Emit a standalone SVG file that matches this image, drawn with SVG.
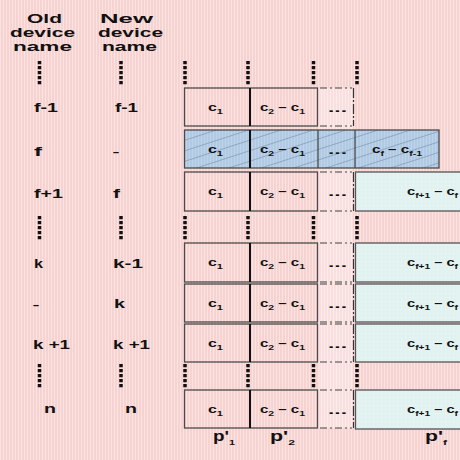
<svg xmlns="http://www.w3.org/2000/svg" width="460" height="460" viewBox="0 0 460 460">
<defs>
<pattern id="bg" width="3" height="10" patternUnits="userSpaceOnUse"><rect width="3" height="10" fill="#f6d2d0"/><rect width="1" height="10" fill="#fbe3e1"/></pattern>
<pattern id="blue" width="3" height="10" patternUnits="userSpaceOnUse"><rect width="3" height="10" fill="#b1cae3"/><rect width="1" height="10" fill="#bfd4ea"/></pattern>
<pattern id="hatch" width="30" height="10" patternUnits="userSpaceOnUse" patternTransform="rotate(-18)"><line x1="0" y1="0.5" x2="30" y2="0.5" stroke="#8296b2" stroke-width="0.7"/></pattern>
<pattern id="cyan" width="4" height="4" patternUnits="userSpaceOnUse"><rect width="4" height="4" fill="#e1f2f0"/><rect x="1" y="1" width="1" height="1" fill="#eef8f7"/></pattern>
<style>
.t{font-family:"Liberation Sans",Arial,sans-serif;font-weight:bold;fill:#111}
.h{font-size:12px}
.l{font-size:13px}
.c{font-size:11.5px}
.s{font-size:8px}
.p{font-size:14px}
.box{fill:none;stroke:#4a4a4a;stroke-width:1.3}
.cy{fill:url(#cyan);stroke:#555;stroke-width:1.3}
.div{stroke:#111;stroke-width:2}
.dd{stroke:#444;stroke-width:1.2;stroke-dasharray:7 3 2 3;fill:none}
.dr{stroke:#333;stroke-width:1.2;stroke-dasharray:10 2 2 2;fill:none}
.vd{stroke:#111;stroke-width:3.5;stroke-dasharray:3.3 1.7;fill:none}
</style>
</defs>
<rect width="460" height="460" fill="url(#bg)"/>
<rect x="319" y="88" width="34" height="340" fill="#fff" opacity="0.3"/>

<g id="headers">
<text class="t h" x="27" y="23" textLength="35" lengthAdjust="spacingAndGlyphs">Old</text>
<text class="t h" x="10" y="37" textLength="65" lengthAdjust="spacingAndGlyphs">device</text>
<text class="t h" x="13" y="50.5" textLength="59" lengthAdjust="spacingAndGlyphs">name</text>
<text class="t h" x="100" y="23" textLength="53" lengthAdjust="spacingAndGlyphs">New</text>
<text class="t h" x="98" y="37" textLength="65" lengthAdjust="spacingAndGlyphs">device</text>
<text class="t h" x="102" y="50.5" textLength="55" lengthAdjust="spacingAndGlyphs">name</text>
</g>

<g id="ellipses">
<path class="vd" d="M39.5 61V85M121 61V85M39.5 216V240M121 216V240M39.5 364V388M121 364V388"/>
<path class="vd" d="M185 61V85M248 61V85M313.5 61V85M357 61V85M185 216V240M248 216V240M313.5 216V240M357 216V240M185 364V388M248 364V388M313.5 364V388M357 364V388"/>
</g>

<g id="row-f-1">
<text class="t l" x="34" y="112" textLength="24" lengthAdjust="spacingAndGlyphs">f-1</text>
<text class="t l" x="115" y="112" textLength="23" lengthAdjust="spacingAndGlyphs">f-1</text>
<rect class="box" x="184.5" y="88" width="133" height="38"/>
<line class="div" x1="250" y1="88" x2="250" y2="126"/>
<path class="dd" d="M320 88H352M320 126H352"/>
<line class="dr" x1="353.5" y1="88" x2="353.5" y2="126"/>
<text class="t c" x="208" y="111" textLength="15" lengthAdjust="spacingAndGlyphs">c<tspan class="s" dy="3">1</tspan></text>
<text class="t c" x="260" y="111" textLength="45" lengthAdjust="spacingAndGlyphs">c<tspan class="s" dy="3">2</tspan><tspan dy="-3"> – c</tspan><tspan class="s" dy="3">1</tspan></text>
<text class="t c" x="328" y="112" textLength="19" lengthAdjust="spacingAndGlyphs">...</text>
</g>

<g id="row-f">
<text class="t l" x="34" y="156" textLength="8" lengthAdjust="spacingAndGlyphs">f</text>
<text class="t l" x="113" y="156" textLength="6" lengthAdjust="spacingAndGlyphs">–</text>
<rect x="184.5" y="130" width="254.5" height="38" fill="url(#blue)"/>
<rect x="184.5" y="130" width="254.5" height="38" fill="url(#hatch)"/>
<rect class="box" x="184.5" y="130" width="254.5" height="38"/>
<line class="div" x1="250" y1="130" x2="250" y2="168"/>
<line class="box" x1="318" y1="130" x2="318" y2="168"/>
<line class="box" x1="355" y1="130" x2="355" y2="168"/>
<text class="t c" x="208" y="153" textLength="15" lengthAdjust="spacingAndGlyphs">c<tspan class="s" dy="3">1</tspan></text>
<text class="t c" x="260" y="153" textLength="45" lengthAdjust="spacingAndGlyphs">c<tspan class="s" dy="3">2</tspan><tspan dy="-3"> – c</tspan><tspan class="s" dy="3">1</tspan></text>
<text class="t c" x="328" y="154" textLength="19" lengthAdjust="spacingAndGlyphs">...</text>
<text class="t c" x="372" y="153" textLength="50" lengthAdjust="spacingAndGlyphs">c<tspan class="s" dy="3">f</tspan><tspan dy="-3"> – c</tspan><tspan class="s" dy="3">f-1</tspan></text>
</g>

<g id="row-f+1">
<text class="t l" x="34" y="198" textLength="29" lengthAdjust="spacingAndGlyphs">f+1</text>
<text class="t l" x="113" y="198" textLength="7" lengthAdjust="spacingAndGlyphs">f</text>
<rect class="box" x="184.5" y="172" width="133" height="39"/>
<line class="div" x1="250" y1="172" x2="250" y2="211"/>
<path class="dd" d="M320 172H352M320 211H352"/>
<line class="dr" x1="353.5" y1="172" x2="353.5" y2="211"/>
<rect class="cy" x="355.5" y="172" width="120" height="39"/>
<text class="t c" x="208" y="195" textLength="15" lengthAdjust="spacingAndGlyphs">c<tspan class="s" dy="3">1</tspan></text>
<text class="t c" x="260" y="195" textLength="45" lengthAdjust="spacingAndGlyphs">c<tspan class="s" dy="3">2</tspan><tspan dy="-3"> – c</tspan><tspan class="s" dy="3">1</tspan></text>
<text class="t c" x="328" y="196" textLength="19" lengthAdjust="spacingAndGlyphs">...</text>
<text class="t c" x="407" y="195" textLength="51" lengthAdjust="spacingAndGlyphs">c<tspan class="s" dy="3">f+1</tspan><tspan dy="-3"> – c</tspan><tspan class="s" dy="3">f</tspan></text>
</g>

<g id="row-k">
<text class="t l" x="34" y="268" textLength="9" lengthAdjust="spacingAndGlyphs">k</text>
<text class="t l" x="113" y="268" textLength="30" lengthAdjust="spacingAndGlyphs">k-1</text>
<rect class="box" x="184.5" y="243" width="133" height="39"/>
<line class="div" x1="250" y1="243" x2="250" y2="282"/>
<path class="dd" d="M320 243H352M320 282H352"/>
<line class="dr" x1="353.5" y1="243" x2="353.5" y2="282"/>
<rect class="cy" x="355.5" y="243" width="120" height="39"/>
<text class="t c" x="208" y="266" textLength="15" lengthAdjust="spacingAndGlyphs">c<tspan class="s" dy="3">1</tspan></text>
<text class="t c" x="260" y="266" textLength="45" lengthAdjust="spacingAndGlyphs">c<tspan class="s" dy="3">2</tspan><tspan dy="-3"> – c</tspan><tspan class="s" dy="3">1</tspan></text>
<text class="t c" x="328" y="267" textLength="19" lengthAdjust="spacingAndGlyphs">...</text>
<text class="t c" x="407" y="266" textLength="51" lengthAdjust="spacingAndGlyphs">c<tspan class="s" dy="3">f+1</tspan><tspan dy="-3"> – c</tspan><tspan class="s" dy="3">f</tspan></text>
</g>

<g id="row-new-k">
<text class="t l" x="33" y="309" textLength="6" lengthAdjust="spacingAndGlyphs">–</text>
<text class="t l" x="114" y="308" textLength="11" lengthAdjust="spacingAndGlyphs">k</text>
<rect class="box" x="184.5" y="284" width="133" height="38"/>
<line class="div" x1="250" y1="284" x2="250" y2="322"/>
<path class="dd" d="M320 284H352M320 322H352"/>
<line class="dr" x1="353.5" y1="284" x2="353.5" y2="322"/>
<rect class="cy" x="355.5" y="284" width="120" height="38"/>
<text class="t c" x="208" y="307" textLength="15" lengthAdjust="spacingAndGlyphs">c<tspan class="s" dy="3">1</tspan></text>
<text class="t c" x="260" y="307" textLength="45" lengthAdjust="spacingAndGlyphs">c<tspan class="s" dy="3">2</tspan><tspan dy="-3"> – c</tspan><tspan class="s" dy="3">1</tspan></text>
<text class="t c" x="328" y="308" textLength="19" lengthAdjust="spacingAndGlyphs">...</text>
<text class="t c" x="407" y="307" textLength="51" lengthAdjust="spacingAndGlyphs">c<tspan class="s" dy="3">f+1</tspan><tspan dy="-3"> – c</tspan><tspan class="s" dy="3">f</tspan></text>
</g>

<g id="row-k+1">
<text class="t l" x="33" y="349" textLength="37" lengthAdjust="spacingAndGlyphs">k +1</text>
<text class="t l" x="113" y="349" textLength="37" lengthAdjust="spacingAndGlyphs">k +1</text>
<rect class="box" x="184.5" y="324" width="133" height="38"/>
<line class="div" x1="250" y1="324" x2="250" y2="362"/>
<path class="dd" d="M320 324H352M320 362H352"/>
<line class="dr" x1="353.5" y1="324" x2="353.5" y2="362"/>
<rect class="cy" x="355.5" y="324" width="120" height="38"/>
<text class="t c" x="208" y="347" textLength="15" lengthAdjust="spacingAndGlyphs">c<tspan class="s" dy="3">1</tspan></text>
<text class="t c" x="260" y="347" textLength="45" lengthAdjust="spacingAndGlyphs">c<tspan class="s" dy="3">2</tspan><tspan dy="-3"> – c</tspan><tspan class="s" dy="3">1</tspan></text>
<text class="t c" x="328" y="348" textLength="19" lengthAdjust="spacingAndGlyphs">...</text>
<text class="t c" x="407" y="347" textLength="51" lengthAdjust="spacingAndGlyphs">c<tspan class="s" dy="3">f+1</tspan><tspan dy="-3"> – c</tspan><tspan class="s" dy="3">f</tspan></text>
</g>

<g id="row-n">
<text class="t l" x="44" y="413" textLength="12" lengthAdjust="spacingAndGlyphs">n</text>
<text class="t l" x="125" y="413" textLength="12" lengthAdjust="spacingAndGlyphs">n</text>
<rect class="box" x="184.5" y="390" width="133" height="38"/>
<line class="div" x1="250" y1="390" x2="250" y2="428"/>
<path class="dd" d="M320 390H352M320 428H352"/>
<line class="dr" x1="353.5" y1="390" x2="353.5" y2="428"/>
<rect class="cy" x="355.5" y="390" width="120" height="39"/>
<text class="t c" x="208" y="413" textLength="15" lengthAdjust="spacingAndGlyphs">c<tspan class="s" dy="3">1</tspan></text>
<text class="t c" x="260" y="413" textLength="45" lengthAdjust="spacingAndGlyphs">c<tspan class="s" dy="3">2</tspan><tspan dy="-3"> – c</tspan><tspan class="s" dy="3">1</tspan></text>
<text class="t c" x="328" y="414" textLength="19" lengthAdjust="spacingAndGlyphs">...</text>
<text class="t c" x="407" y="413" textLength="51" lengthAdjust="spacingAndGlyphs">c<tspan class="s" dy="3">f+1</tspan><tspan dy="-3"> – c</tspan><tspan class="s" dy="3">f</tspan></text>
</g>

<g id="partition-labels">
<text class="t p" x="213" y="441" textLength="22" lengthAdjust="spacingAndGlyphs">p'<tspan class="s" dy="4">1</tspan></text>
<text class="t p" x="270" y="441" textLength="25" lengthAdjust="spacingAndGlyphs">p'<tspan class="s" dy="4">2</tspan></text>
<text class="t p" x="425" y="441" textLength="22" lengthAdjust="spacingAndGlyphs">p'<tspan class="s" dy="4">f</tspan></text>
</g>
</svg>
